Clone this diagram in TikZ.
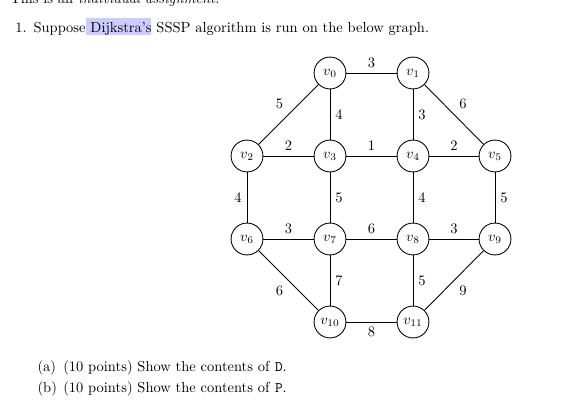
\documentclass[tikz,border=0pt]{standalone}
\definecolor{hl}{RGB}{204,204,255}
\begin{document}
\begin{tikzpicture}[x=0.69pt,y=-0.69pt,
  vtx/.style={circle,draw,line width=0.6pt,minimum size=22pt,inner sep=0pt},
  edge/.style={line width=0.6pt},
  txt/.style={anchor=base west,inner sep=0pt}]
\useasboundingbox (0,0) rectangle (574,406);
\fill[hl] (86,18) rectangle (150.7,35);
\node[txt] (top) at (10,3.5) {This is an \emph{individual assignment.}};
\node[txt] (num) at (15,32.5) {1.};
\node[txt] (title) at (33.3,32.5) {Suppose Dijkstra's SSSP algorithm is run on the below graph.};
% vertices
\node[vtx] (v0) at (330,73) {$v_0$};
\node[vtx] (v1) at (413,73) {$v_1$};
\node[vtx] (v2) at (247,156) {$v_2$};
\node[vtx] (v3) at (330,156) {$v_3$};
\node[vtx] (v4) at (413,156) {$v_4$};
\node[vtx] (v5) at (495,156) {$v_5$};
\node[vtx] (v6) at (247,239) {$v_6$};
\node[vtx] (v7) at (330,239) {$v_7$};
\node[vtx] (v8) at (413,239) {$v_8$};
\node[vtx] (v9) at (495,239) {$v_9$};
\node[vtx] (v10) at (330,322) {$v_{10}$};
\node[vtx] (v11) at (413,322) {$v_{11}$};
% edges
\draw[edge] (v0) -- node[above] {3} (v1);
\draw[edge] (v0) -- node[above left] {5} (v2);
\draw[edge] (v0) -- node[right] {4} (v3);
\draw[edge] (v1) -- node[right] {3} (v4);
\draw[edge] (v1) -- node[above right] {6} (v5);
\draw[edge] (v2) -- node[above] {2} (v3);
\draw[edge] (v3) -- node[above] {1} (v4);
\draw[edge] (v4) -- node[above] {2} (v5);
\draw[edge] (v2) -- node[left] {4} (v6);
\draw[edge] (v3) -- node[right] {5} (v7);
\draw[edge] (v4) -- node[right] {4} (v8);
\draw[edge] (v5) -- node[right] {5} (v9);
\draw[edge] (v6) -- node[above] {3} (v7);
\draw[edge] (v7) -- node[above] {6} (v8);
\draw[edge] (v8) -- node[above] {3} (v9);
\draw[edge] (v6) -- node[below left] {6} (v10);
\draw[edge] (v7) -- node[right] {7} (v10);
\draw[edge] (v8) -- node[right] {5} (v11);
\draw[edge] (v9) -- node[below right] {9} (v11);
\draw[edge] (v10) -- node[below] {8} (v11);
% questions
\node[txt] (la) at (37.3,371) {(a)};
\node[txt] (ta) at (63,371) {(10 points) Show the contents of \texttt{D}.};
\node[txt] (lb) at (37.3,392) {(b)};
\node[txt] (tb) at (63,392) {(10 points) Show the contents of \texttt{P}.};
\end{tikzpicture}
\end{document}
